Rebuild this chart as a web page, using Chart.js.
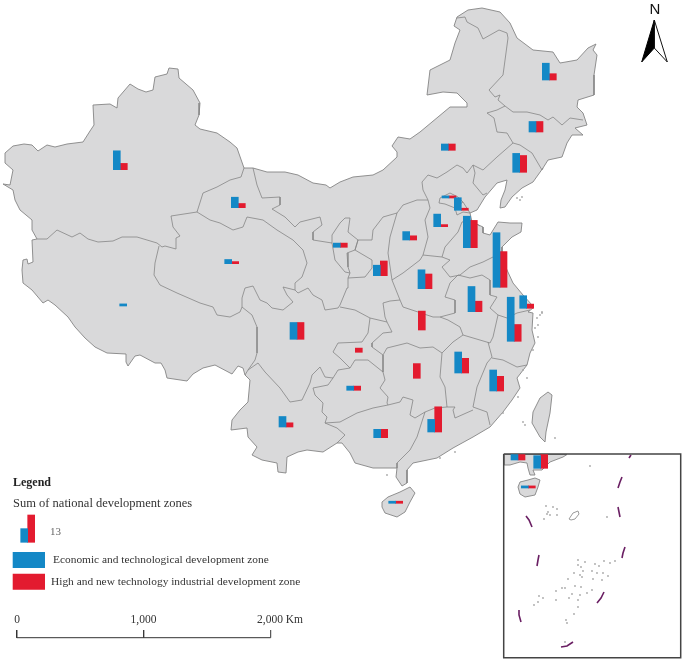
<!DOCTYPE html>
<html><head><meta charset="utf-8">
<style>html,body{margin:0;padding:0;background:#fff}canvas{display:block}</style>
<script src="https://cdn.jsdelivr.net/npm/chart.js@4/dist/chart.umd.js"></script>
</head><body><canvas id="c" width="685" height="660"></canvas>
<script>
// ---- values ----
const provinces = ['Xinjiang','Tibet','Qinghai','Gansu','Ningxia','Sichuan','Yunnan','Chongqing','Guizhou','Guangxi','Hainan','Guangdong','Hunan','Jiangxi','Fujian','Zhejiang','Shanghai','Anhui','Hubei','Henan','Shaanxi','Shanxi','Hebei','Beijing','Tianjin','Shandong','Jiangsu','Liaoning','Jilin','Heilongjiang','Inner Mongolia'];
const econZones = [9,1,2,5,2,8,5,0,2,4,1,6,0,10,10,21,6,12,0,9,5,4,6,1,6,15,26,9,5,8,3];
const highZones = [3,0,1,2,2,8,2,2,2,4,1,12,7,7,7,8,2,5,9,7,7,2,1,1,1,13,17,8,5,3,3];
const anchorX = [120.3,126.7,231.7,238.3,340.3,297,286,355.3,353.7,380.7,395.7,434.7,413.3,461.7,496.7,514.2,526.7,475,418.3,425,380.3,409.7,440.7,449,461.3,470.3,500,519.7,536,549.3,448.3];
const anchorY = [169.7,306,263.7,207.7,247.3,339.3,427,352.3,390.3,437.7,503.3,432,378.3,373,391,341.3,308.3,311.7,330,288.7,275.7,240,226.7,198,210.3,247.7,287.3,172.3,132,80,150.3];
const insetProvinces = ['Guangxi','Guangdong','Hainan'];
const insetX = [518,540.7,528.3];
const insetY = [460,468.3,488];
const legendEcon = 6.5, legendHigh = 13, legendX = 27.7, legendY = 542.3;
const pxPerZone = 2.1;
const insetTop = 454.6;

const BLUE='#1488c6', RED='#e31b2f', LAND='#d9d9da', EDGE='#858585', DASH='#6a1f63';

// ---- map geometry ----
const country = [[5,163],[5,153],[13,146],[24,144],[32,145],[38,151],[47,145],[55,147],[67,144],[83,142],[90,131],[94,125],[93,105],[110,104],[117,108],[118,98],[130,84],[138,89],[146,92],[153,90],[155,77],[167,74],[169,68],[178,69],[179,78],[193,90],[200,103],[199,115],[195,125],[200,129],[217,133],[230,142],[237,148],[244,168],[253,168],[267,172],[285,172],[298,175],[313,183],[326,185],[330,188],[340,182],[353,177],[373,175],[383,170],[397,157],[397,152],[392,146],[398,137],[410,139],[420,132],[438,117],[450,107],[467,107],[467,103],[457,93],[443,92],[427,95],[430,70],[450,60],[455,43],[460,30],[454,26],[457,17],[468,10],[482,8],[500,12],[510,23],[517,38],[533,50],[553,52],[560,63],[577,60],[588,48],[596,44],[593,50],[597,55],[594,75],[594,95],[578,100],[577,107],[583,113],[587,125],[575,128],[583,135],[572,135],[567,143],[562,157],[548,160],[543,168],[533,182],[522,188],[512,197],[505,207],[500,208],[501,200],[505,190],[507,180],[497,183],[485,197],[477,210],[470,213],[472,222],[483,227],[483,233],[490,235],[498,222],[510,223],[522,223],[521,232],[512,237],[502,247],[502,257],[507,270],[513,283],[523,295],[532,305],[533,308],[528,312],[533,313],[532,330],[535,343],[530,353],[527,365],[517,378],[520,388],[512,400],[503,412],[490,427],[473,437],[453,448],[437,458],[413,463],[407,470],[407,483],[402,486],[396,477],[397,468],[387,468],[373,468],[355,463],[350,453],[342,443],[337,443],[323,452],[307,450],[298,452],[287,457],[286,473],[278,472],[277,463],[262,460],[252,455],[257,447],[248,437],[247,428],[231,430],[232,420],[240,410],[248,402],[250,380],[245,375],[243,368],[238,366],[232,374],[215,365],[203,368],[193,374],[187,381],[167,378],[165,370],[161,363],[155,363],[140,355],[135,356],[128,366],[126,362],[126,354],[107,353],[95,347],[85,338],[75,327],[68,317],[55,305],[48,300],[43,303],[32,290],[23,283],[22,270],[23,260],[27,259],[28,264],[33,262],[32,240],[37,239],[32,230],[32,220],[20,210],[15,200],[13,190],[3,184],[10,185],[13,170],[5,163]];
const hainanLand = [[382,502],[388,497],[400,492],[410,487],[415,493],[410,502],[405,512],[397,517],[385,513],[382,507],[382,502]];
const taiwanLand = [[548,392],[552,395],[550,413],[546,432],[545,442],[540,437],[532,423],[533,412],[540,398],[548,392]];
const borders = [
 [[37,239],[47,239],[57,230],[72,237],[80,233],[88,239],[98,242],[113,241],[122,237],[137,237],[157,243],[162,247],[165,246],[176,249],[176,238],[180,236],[173,227],[171,216],[197,212],[203,193],[217,187],[230,180],[241,177],[244,168]],
 [[159,246],[155,263],[154,275],[160,285],[177,293],[200,303],[213,307],[217,315],[230,317],[240,312],[242,307],[252,315],[257,327],[257,353],[255,360],[248,370],[245,375]],
 [[242,307],[242,298],[245,288],[253,286],[260,300],[267,303],[272,308],[283,310],[293,302],[287,295],[283,287],[295,290],[295,283],[302,277],[307,263],[303,250],[293,240],[277,230],[263,220],[247,217],[243,227],[233,230],[220,223],[210,220],[197,212]],
 [[295,290],[298,293],[308,288],[313,295],[322,300],[325,310],[338,308],[340,305],[347,288],[348,278],[365,277],[372,268],[372,260],[355,250],[358,240]],
 [[253,168],[257,185],[262,198],[280,197],[280,205],[272,209],[285,217],[295,227],[300,222],[320,217],[322,225],[313,232],[313,240],[332,243]],
 [[332,243],[332,235],[340,223],[345,218],[350,218],[348,232],[358,240],[355,250],[347,253],[348,267],[350,273],[345,272],[335,260],[332,243]],
 [[350,273],[348,278]],
 [[358,240],[372,240],[373,230],[383,217],[397,213],[403,205],[417,200],[428,200],[423,190],[422,182],[428,175],[437,178],[447,172],[457,165],[463,168],[467,173],[473,165],[475,173],[473,183],[483,195],[487,193]],
 [[473,165],[483,170],[497,157],[513,143],[520,145],[532,153],[542,170],[543,168]],
 [[513,143],[507,133],[497,132],[494,118],[487,113],[497,110],[505,106],[513,112],[527,112],[540,115],[548,120],[553,117],[562,125],[570,118],[583,120]],
 [[505,106],[498,100],[500,95],[495,97],[489,90],[503,75],[508,38],[507,33],[499,30],[483,39],[478,28],[467,22],[465,17],[457,18]],
 [[397,213],[390,237],[388,253],[392,280],[400,300],[390,301],[383,303],[385,317],[387,322],[392,332],[383,333],[372,343],[372,347],[383,355],[383,372]],
 [[428,200],[430,208],[425,220],[428,237],[423,255],[420,260],[403,273],[392,280]],
 [[423,255],[442,257],[445,247],[458,232],[462,222],[470,220],[480,226]],
 [[442,257],[450,260],[442,267],[450,277],[460,275],[470,267],[483,262],[493,257],[503,255]],
 [[458,275],[470,278],[482,275],[490,280],[490,295],[497,297],[490,308],[498,315],[507,318],[517,313],[530,310]],
 [[458,275],[450,283],[445,297],[455,300],[455,313],[440,317],[448,320],[460,327],[463,335],[453,342],[442,353]],
 [[400,300],[403,307],[418,312],[433,317],[440,317]],
 [[463,335],[490,343],[493,337],[498,315]],
 [[488,342],[492,357],[487,363],[477,387],[473,407],[487,412],[490,425]],
 [[492,358],[503,360],[517,367],[527,365]],
 [[473,410],[455,418],[453,410],[455,407],[447,407],[445,387],[440,377],[442,353],[433,347],[420,348],[407,343],[387,348],[383,355]],
 [[447,407],[435,408],[425,412],[415,418],[410,415],[413,400],[403,397],[400,402],[388,405],[387,403],[388,397],[380,388],[385,380],[383,372],[368,360],[355,360],[350,368],[340,358],[333,352],[338,343],[362,342],[368,333],[370,318],[355,310],[340,307]],
 [[370,318],[387,322]],
 [[425,412],[417,437],[410,450],[397,463],[397,468]],
 [[388,405],[373,408],[357,413],[340,422],[325,423],[327,417],[322,412],[323,403],[315,395],[313,388],[328,385],[333,378],[325,377],[320,367],[312,375],[310,383],[302,400],[290,402],[280,388],[265,372],[258,363],[248,370]],
 [[333,378],[338,370],[350,368]],
 [[325,423],[337,428],[345,435],[337,443]],
 [[439,203],[440,198],[450,193],[458,197],[463,202],[455,208],[445,204],[439,203]],
 [[463,202],[470,213],[463,212],[457,215],[455,208]]
];
const insetCoast = [[504,454.5],[504,465],[510,465],[520,462],[527,463],[528,468],[530,475],[535,475],[533,470],[542,470],[550,462],[563,457],[567,454.5],[504,454.5]];
const insetHainan = [[518,487],[520,482],[528,480],[535,478],[540,480],[538,487],[535,495],[525,497],[520,494],[518,487]];
const insetRing = [[569,519],[573,513],[578,511],[579,514],[575,519],[571,520],[569,519]];
const nineDash = [[[526,516],[529,520],[532,527]],[[539,555],[538,560],[537,566]],[[519,610],[519,615],[521,622]],[[561,647],[567,646],[573,642]],[[597,603],[601,598],[604,592]],[[622,558],[623,553],[625,547]],[[620,517],[619,512],[618,507]],[[618,488],[620,482],[622,477]],[[629,458],[631,455]]];
const islets = [[590,466],[607,517],[546,506],[553,507],[557,509],[548,512],[550,515],[547,514],[557,515],[544,519],[578,560],[585,562],[578,565],[581,567],[583,571],[580,575],[582,577],[595,564],[599,566],[604,561],[610,563],[615,561],[592,571],[597,573],[603,573],[608,576],[593,579],[602,580],[568,579],[574,573],[562,588],[565,588],[556,591],[575,586],[581,587],[587,593],[592,590],[572,594],[580,595],[578,600],[569,598],[556,600],[543,598],[539,596],[538,602],[534,605],[578,607],[574,614],[566,620],[567,623],[565,642]];
const coastIslets = [[542,313],[537,318],[535,328],[538,337],[533,350],[523,370],[527,378],[518,397],[503,413],[455,452],[440,458],[387,475],[523,422],[525,425],[555,438],[520,200],[517,198],[522,197],[540,315],[538,325],[542,312]];
const insetFrame = [[503.7,454],[680.7,454],[680.7,657.7],[503.7,657.7],[503.7,454]];
const arrowLeft = [[654.3,20],[641.7,62],[654.3,48],[654.3,20]];
const arrowRight = [[654.3,20],[667.3,62],[654.3,48],[654.3,20]];
const swatchEcon = [[12.7,552],[45,552],[45,568],[12.7,568],[12.7,552]];
const swatchHigh = [[12.7,573.7],[45,573.7],[45,589.7],[12.7,589.7],[12.7,573.7]];
const scaleBar = [[16.7,630],[16.7,637.7],[143.7,637.7],[143.7,630],[143.7,637.7],[270.7,637.7],[270.7,630]];

// ---- text ----
const serif = '"Liberation Serif","Times New Roman",serif';
const labels = [
 {t:'Legend',x:13,y:483,f:'bold 12px '+serif,c:'#222'},
 {t:'Sum of national development zones',x:13,y:503.5,f:'12.5px '+serif,c:'#333'},
 {t:'13',x:50,y:532,f:'11px '+serif,c:'#666'},
 {t:'Economic and technological development zone',x:53,y:560.5,f:'11.4px '+serif,c:'#333'},
 {t:'High and new technology industrial development zone',x:51,y:582.5,f:'11.4px '+serif,c:'#333'},
 {t:'0',x:17,y:620,f:'11.5px '+serif,c:'#333',a:'center'},
 {t:'1,000',x:143.5,y:620,f:'11.5px '+serif,c:'#333',a:'center'},
 {t:'2,000 Km',x:257,y:620,f:'11.5px '+serif,c:'#333'},
 {t:'N',x:655,y:9.5,f:'15px "Liberation Sans",Arial,sans-serif',c:'#111',a:'center'}
];

// ---- helpers ----
const pts = a => a.map(p=>({x:p[0],y:p[1]}));
const shape = (a,fill,line,w,order) => ({type:'line',data:pts(a),fill:fill?'shape':false,backgroundColor:fill||'transparent',borderColor:line||'transparent',borderWidth:w||0,pointRadius:0,tension:0,order});
const floating = (x,y,v,limit) => v>0 ? [{x,y:[y,Math.max(y-v*pxPerZone,limit||0)]}] : [];
const idx = n => provinces.indexOf(n);
const series = (vals,legendVal) => [
  ...provinces.flatMap((p,i)=>floating(anchorX[i],anchorY[i],vals[i])),
  ...insetProvinces.flatMap((p,i)=>floating(insetX[i],insetY[i],vals[idx(p)],insetTop)),
  ...floating(legendX,legendY,legendVal)
];

const datasets = [];
datasets.push(shape(country,LAND,EDGE,0.9,100));
datasets.push(shape(hainanLand,LAND,EDGE,0.9,100));
datasets.push(shape(taiwanLand,LAND,EDGE,0.9,100));
borders.forEach(b=>datasets.push(shape(b,null,EDGE,0.8,90)));
[insetCoast,insetHainan].forEach(b=>datasets.push(shape(b,LAND,EDGE,0.9,80)));
datasets.push(shape(insetRing,null,'#9a9a9a',1,80));
nineDash.forEach(b=>datasets.push(shape(b,null,DASH,1.6,70)));
datasets.push({type:'scatter',data:pts(islets.concat(coastIslets)),pointRadius:0.9,pointBackgroundColor:'#a8a8a8',pointBorderWidth:0,showLine:false,order:70});
datasets.push(shape(insetFrame,null,'#444',1.5,60));
datasets.push(shape(arrowRight,null,'#111',1,50));
datasets.push(shape(arrowLeft,'#000','#000',1,50));
datasets.push(shape(swatchEcon,BLUE,null,0,50));
datasets.push(shape(swatchHigh,RED,null,0,50));
datasets.push(shape(scaleBar,null,'#333',1,50));
datasets.push({type:'bar',label:'Economic and technological development zone',data:series(econZones,legendEcon),backgroundColor:BLUE,borderWidth:0,barThickness:7,order:10});
datasets.push({type:'bar',label:'High and new technology industrial development zone',data:series(highZones,legendHigh),backgroundColor:RED,borderWidth:0,barThickness:7,order:10});

const textPlugin = {id:'mapText',afterDatasetsDraw(chart){
  const c=chart.ctx; c.save(); c.textBaseline='middle';
  labels.forEach(l=>{c.font=l.f;c.fillStyle=l.c;c.textAlign=l.a||'left';c.fillText(l.t,l.x,l.y);});
  c.restore();
}};

new Chart(document.getElementById('c'),{
  type:'line',
  data:{datasets},
  plugins:[textPlugin],
  options:{
    responsive:false,animation:false,
    layout:{padding:0,autoPadding:false},
    plugins:{legend:{display:false},tooltip:{enabled:false},title:{display:false}},
    scales:{
      x:{type:'linear',min:0,max:685,display:false,offset:false},
      y:{type:'linear',min:0,max:660,reverse:true,display:false}
    }
  }
});
</script></body></html>
